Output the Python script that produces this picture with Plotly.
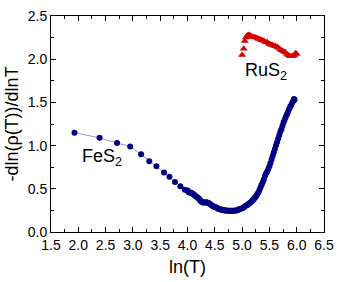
import plotly.graph_objects as go

# FeS2 data (ln T, -dln(rho)/dlnT)
fes2_x = [1.93, 2.39, 2.71, 2.95, 3.15, 3.30, 3.43, 3.57, 3.67, 3.77, 3.87, 3.95,
          4.00, 4.02, 4.04, 4.06, 4.08, 4.10, 4.12, 4.14, 4.16, 4.18, 4.20, 4.22, 4.24, 4.26,
          4.28, 4.30, 4.32, 4.34, 4.36, 4.38, 4.40, 4.42, 4.44, 4.46, 4.48, 4.50, 4.52, 4.54,
          4.56, 4.58, 4.60, 4.62, 4.64, 4.66, 4.68, 4.70, 4.72, 4.74, 4.76, 4.78, 4.80, 4.82,
          4.84, 4.86, 4.88, 4.90, 4.92, 4.94, 4.96, 4.98, 5.00, 5.02, 5.04, 5.06, 5.08, 5.10,
          5.12, 5.14, 5.16, 5.18, 5.20, 5.22, 5.24, 5.26, 5.28, 5.30, 5.32, 5.34, 5.36, 5.38,
          5.40, 5.42, 5.44, 5.46, 5.48, 5.50, 5.52, 5.54, 5.56, 5.58, 5.60, 5.62, 5.64, 5.66,
          5.68, 5.70, 5.72, 5.74, 5.76, 5.78, 5.80, 5.82, 5.84, 5.86, 5.88, 5.90, 5.92, 5.94,
          5.95, 5.96]
fes2_y = [1.15, 1.09, 1.03, 0.99, 0.90, 0.82, 0.76, 0.69, 0.64, 0.58, 0.53, 0.49,
          0.48, 0.46, 0.46, 0.45, 0.45, 0.44, 0.43, 0.42, 0.41, 0.40, 0.39, 0.38, 0.36, 0.35,
          0.34, 0.34, 0.34, 0.345, 0.34, 0.335, 0.33, 0.32, 0.31, 0.30, 0.295, 0.29, 0.285, 0.28,
          0.27, 0.265, 0.26, 0.26, 0.255, 0.255, 0.25, 0.25, 0.25, 0.245, 0.245, 0.245, 0.245, 0.245,
          0.245, 0.245, 0.25, 0.25, 0.255, 0.26, 0.265, 0.27, 0.275, 0.28, 0.29, 0.30, 0.31, 0.315,
          0.325, 0.335, 0.345, 0.36, 0.37, 0.385, 0.40, 0.42, 0.44, 0.46, 0.49, 0.52, 0.55, 0.58,
          0.61, 0.65, 0.68, 0.70, 0.73, 0.76, 0.80, 0.84, 0.88, 0.92, 0.96, 1.00, 1.04, 1.08,
          1.12, 1.16, 1.19, 1.23, 1.27, 1.30, 1.33, 1.36, 1.39, 1.42, 1.45, 1.47, 1.50, 1.52,
          1.54, 1.53]

# RuS2 data
rus2_x = [5.00, 5.03, 5.05, 5.07, 5.09, 5.11, 5.13, 5.16, 5.19, 5.22, 5.25, 5.28, 5.31, 5.34,
          5.37, 5.40, 5.43, 5.46, 5.49, 5.52, 5.55, 5.58, 5.61, 5.64, 5.67, 5.70, 5.73, 5.76,
          5.79, 5.82, 5.85, 5.88, 5.91, 5.94, 5.96, 5.98, 6.00]
rus2_y = [2.05, 2.12, 2.21, 2.25, 2.27, 2.28, 2.28, 2.27, 2.26, 2.255, 2.25, 2.24, 2.235, 2.225,
          2.22, 2.21, 2.20, 2.195, 2.18, 2.17, 2.165, 2.155, 2.15, 2.14, 2.13, 2.11, 2.10, 2.09,
          2.08, 2.06, 2.045, 2.035, 2.035, 2.04, 2.05, 2.07, 2.06]

x_ticks = [1.5, 2.0, 2.5, 3.0, 3.5, 4.0, 4.5, 5.0, 5.5, 6.0, 6.5]
y_ticks = [0.0, 0.5, 1.0, 1.5, 2.0, 2.5]

FONT = "Liberation Sans, Arial"

fig = go.Figure()
fig.add_trace(go.Scatter(
    x=fes2_x, y=fes2_y, mode="lines+markers",
    line=dict(color="#9a9ae0", width=1),
    marker=dict(color="#000080", size=6, symbol="circle"),
    showlegend=False))
fig.add_trace(go.Scatter(
    x=rus2_x, y=rus2_y, mode="markers",
    marker=dict(color="#d40000", size=7, symbol="triangle-up"),
    showlegend=False))

fig.add_annotation(x=2.43, y=0.86, text="FeS<sub>2</sub>", showarrow=False,
                   font=dict(family=FONT, size=18, color="black"))
fig.add_annotation(x=5.43, y=1.86, text="RuS<sub>2</sub>", showarrow=False,
                   font=dict(family=FONT, size=18, color="black"))

axis_common = dict(
    showline=True, linecolor="black", linewidth=1, mirror="ticks",
    ticks="inside", ticklen=5, tickcolor="black", tickwidth=1,
    showgrid=False, zeroline=False,
    tickfont=dict(family=FONT, size=14, color="black"),
    minor=dict(ticks="inside", ticklen=3, tickcolor="black", showgrid=False),
)

fig.update_xaxes(range=[1.5, 6.5], tickvals=x_ticks,
                 ticktext=[f"{v:.1f}" for v in x_ticks],
                 minor_dtick=0.25,
                 title=dict(text="ln(T)", font=dict(family=FONT, size=18, color="black"),
                            standoff=8),
                 **axis_common)
fig.update_yaxes(range=[0, 2.5], tickvals=y_ticks,
                 ticktext=[f"{v:.1f}" for v in y_ticks],
                 minor_dtick=0.25,
                 title=dict(text="-dln(ρ(T))/dlnT", font=dict(family=FONT, size=18, color="black"),
                            standoff=4),
                 **axis_common)

fig.update_layout(
    width=342, height=282,
    margin=dict(l=51, r=11, t=8, b=50),
    plot_bgcolor="white", paper_bgcolor="white",
)

fig.write_html("out.html", config={"displayModeBar": False},
               post_script="document.body.style.margin='0';")
